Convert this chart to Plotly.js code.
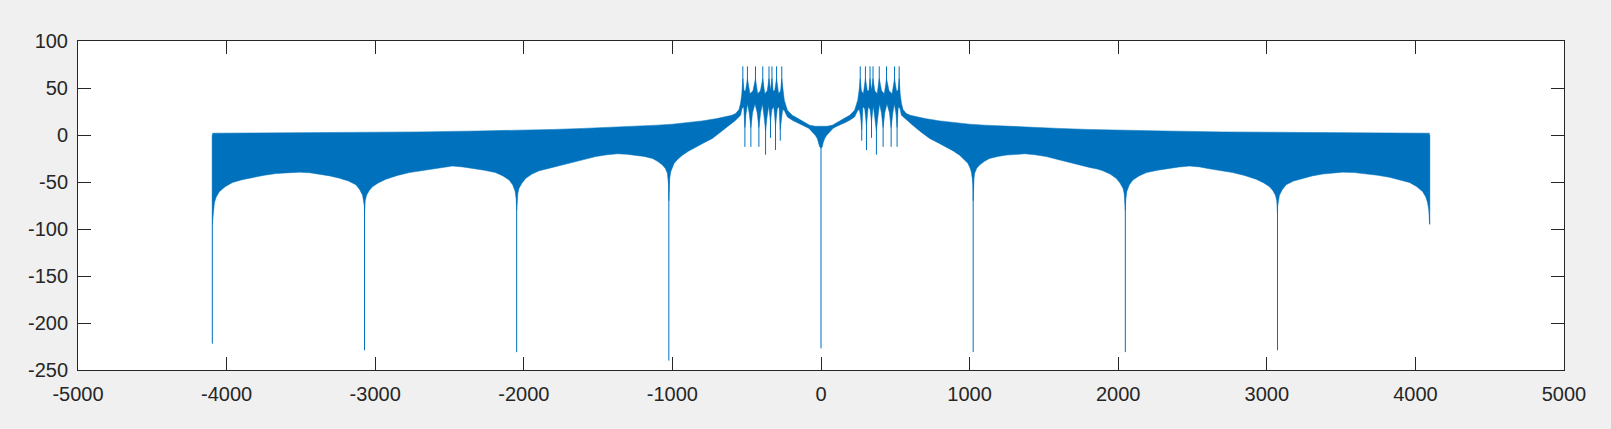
<!DOCTYPE html>
<html><head><meta charset="utf-8">
<script src="https://cdn.plot.ly/plotly-3.0.1.min.js"></script>
<style>html,body{margin:0;padding:0;background:#f0f0f0}#c{width:1611px;height:429px}</style>
</head><body><div id="c"></div>
<script>
const upperLeftX=[-4096,-3500,-3100,-2700,-2300,-2000,-1800,-1600,-1400,-1250,-1100,-1000,-900,-800,-700,-600,-574,-552,-541,-533,-526,-518,-508,-495,-478,-458,-441,-426,-408,-392,-378,-362,-350,-340,-330,-322,-312,-299,-285,-272,-264,-256,-247,-226,-193,-160,-126,-100,-76,-40];
const upperLeftY=[1.9,2.2,2.7,3.3,4.3,5.1,5.9,7,8.2,9.3,10.5,11.5,13,15,17.5,21,23,27,34,44,60,47,47,60,44,47,60,44,47,60,44,47,60,48,60,47,47,60,44,47,60,47,37,26.3,21,18,15,12.3,10.4,9.3];
const upperRightX=[0,40,76,100,126,160,193,226,247,256,264,272,285,299,312,322,330,340,350,362,378,392,408,426,441,458,478,495,508,518,526,533,541,552,574,600,700,800,900,1000,1100,1250,1400,1600,1800,2000,2300,2700,3100,3500,4096];
const upperRightY=[9,9.3,10.4,12.3,15,18,21,26.3,37,47,60,47,44,60,47,47,60,48,60,47,44,60,47,44,60,47,44,60,47,47,60,44,34,27,23,21,17.5,15,13,11.5,10.5,9.3,8.2,7,5.9,5.1,4.3,3.3,2.7,2.2,1.9];
const lowerLeftX=[-4096,-4090,-4082,-4070,-4049,-4010,-3960,-3895,-3825,-3745,-3667,-3590,-3510,-3440,-3375,-3305,-3240,-3180,-3130,-3105,-3085,-3077,-3073,-3072,-3071,-3067,-3058,-3040,-3018,-2980,-2928,-2850,-2770,-2690,-2614,-2550,-2480,-2410,-2345,-2265,-2191,-2140,-2099,-2075,-2058,-2054,-2051,-2048,-2045,-2040,-2032,-2012,-1986,-1945,-1896,-1860,-1807,-1730,-1650,-1580,-1516,-1440,-1370,-1310,-1247,-1190,-1134,-1100,-1067,-1048,-1034,-1030,-1026,-1024,-1022,-1018,-1011,-1003,-988,-965,-933,-890,-843,-790,-731,-670,-617,-580,-541,-532,-520,-512,-505,-494,-484,-472,-460,-444,-430,-418,-406,-394,-382,-373,-364,-352,-340,-330,-318,-306,-294,-282,-274,-266,-258,-247,-226,-193,-160,-126,-100,-80,-58,-40,-25,-15,-9];
const lowerLeftY=[-95,-80,-72,-66,-60.3,-55,-50.5,-47.5,-45,-42.8,-41,-40,-39.5,-40.2,-41.6,-43.5,-46,-49,-53,-58,-64,-70,-76,-85,-76,-70,-64,-59,-55,-51,-47,-43,-40,-38,-36,-34,-33,-34,-35.5,-37.5,-40,-43.5,-48,-53,-60,-63,-69,-80,-69,-62,-56.7,-51,-46,-41.5,-38,-36.3,-34.5,-31.5,-28.5,-25.5,-23,-21,-20,-20.4,-21.4,-22.8,-25,-28,-32,-35.5,-40.6,-46,-53,-70,-53,-46,-39,-35,-30,-26,-21.5,-17,-12.6,-8.5,-3.7,3.5,10.4,15,21,28,30,8,22,33,24,8,24,33,24,8,24,33,18,4,18,31,14,27,30,10,28,30,6,20,27,26,19.2,15.7,13,10.4,8.8,6.9,3,0,-3.7,-8,-12.6];
const lowerRightX=[0,9,15,25,40,58,80,100,126,160,193,226,247,258,266,274,282,294,306,318,330,340,352,364,373,382,394,406,418,430,444,460,472,484,494,505,512,520,532,541,580,617,670,731,790,843,890,933,965,988,1003,1011,1018,1022,1024,1026,1030,1034,1048,1067,1100,1134,1190,1247,1310,1370,1440,1516,1580,1650,1730,1807,1860,1896,1945,1986,2012,2032,2040,2045,2048,2051,2054,2058,2075,2099,2140,2191,2265,2345,2410,2480,2550,2614,2690,2770,2850,2928,2980,3018,3040,3058,3067,3071,3072,3073,3077,3085,3105,3130,3180,3240,3305,3375,3440,3510,3590,3667,3745,3825,3895,3960,4010,4049,4070,4082,4090,4096];
const lowerRightY=[-14,-12.6,-8,-3.7,0,3,6.9,8.8,10.4,13,15.7,19.2,26,27,20,6,30,28,10,30,27,14,31,18,4,18,33,24,8,24,33,24,8,24,33,22,8,30,28,21,15,10.4,3.5,-3.7,-8.5,-12.6,-17,-21.5,-26,-30,-35,-39,-46,-53,-70,-53,-46,-40.6,-35.5,-32,-28,-25,-22.8,-21.4,-20.4,-20,-21,-23,-25.5,-28.5,-31.5,-34.5,-36.3,-38,-41.5,-46,-51,-56.7,-62,-69,-80,-69,-63,-60,-53,-48,-43.5,-40,-37.5,-35.5,-34,-33,-34,-36,-38,-40,-43,-47,-51,-55,-59,-64,-70,-76,-85,-76,-70,-64,-58,-53,-49,-46,-43.5,-41.6,-40.2,-39.5,-40,-41,-42.8,-45,-47.5,-50.5,-55,-60.3,-66,-72,-80,-95];
const dipX=[-4096,-3072,-2048,-1024,0,1024,2048,3072,4096];
const dipY=[-222,-229,-231,-240,-227,-231,-231,-229,-95];
const peakX=[-526,-495,-441,-392,-350,-330,-299,-264,264,299,330,350,392,441,495,526];
const peakY=[73,73,73,73,73,73,73,73,73,73,73,73,73,73,73,73];
const notchX=[-512,-472,-418,-373,-340,-306,-274,274,306,340,373,418,472,512];
const notchY=[-12.6,-12.6,-12.6,-21,-3,-16,-6,-6,-16,-3,-21,-12.6,-12.6,-12.6];
const xTicks=[-5000,-4000,-3000,-2000,-1000,0,1000,2000,3000,4000,5000];
const xLabels=['-5000','-4000','-3000','-2000','-1000','0','1000','2000','3000','4000','5000'];
const yTicks=[-250,-200,-150,-100,-50,0,50,100];
const yLabels=['-250','-200','-150','-100','-50','0','50','100'];

const blue='#0072BD', ink='#262626';
function spikes(xs,ys,base){
  const x=[],y=[];
  xs.forEach((v,i)=>{x.push(v,v,null);y.push(base,ys[i],null);});
  return {x,y,type:'scatter',mode:'lines',line:{color:blue,width:1},hoverinfo:'skip',showlegend:false};
}
const data=[
 {x:lowerLeftX.concat(lowerRightX),y:lowerLeftY.concat(lowerRightY),type:'scatter',mode:'lines',line:{color:blue,width:0.5},hoverinfo:'skip',showlegend:false},
 {x:upperLeftX.concat(upperRightX),y:upperLeftY.concat(upperRightY),type:'scatter',mode:'lines',line:{color:blue,width:0.5},fill:'tonexty',fillcolor:blue,hoverinfo:'skip',showlegend:false},
 spikes(dipX,dipY,0),
 spikes(peakX,peakY,40),
 spikes(notchX,notchY,35)
];
const axis={showgrid:false,zeroline:false,showline:true,linecolor:ink,linewidth:1,mirror:'ticks',
 ticks:'inside',ticklen:13,tickwidth:1,tickcolor:ink,tickmode:'array',
 tickfont:{family:'"Liberation Sans",Arial,sans-serif',size:20,color:ink}};
const layout={width:1611,height:429,paper_bgcolor:'#f0f0f0',plot_bgcolor:'#ffffff',
 margin:{l:77.5,r:46.5,t:40.5,b:58.5,pad:0},showlegend:false,
 xaxis:Object.assign({},axis,{range:[-5000,5000],tickvals:xTicks,ticktext:xLabels,ticklabelstandoff:6}),
 yaxis:Object.assign({},axis,{range:[-250,100],tickvals:yTicks,ticktext:yLabels,ticklabelstandoff:5})};
Plotly.newPlot('c',data,layout,{displayModeBar:false,staticPlot:true});
</script></body></html>
